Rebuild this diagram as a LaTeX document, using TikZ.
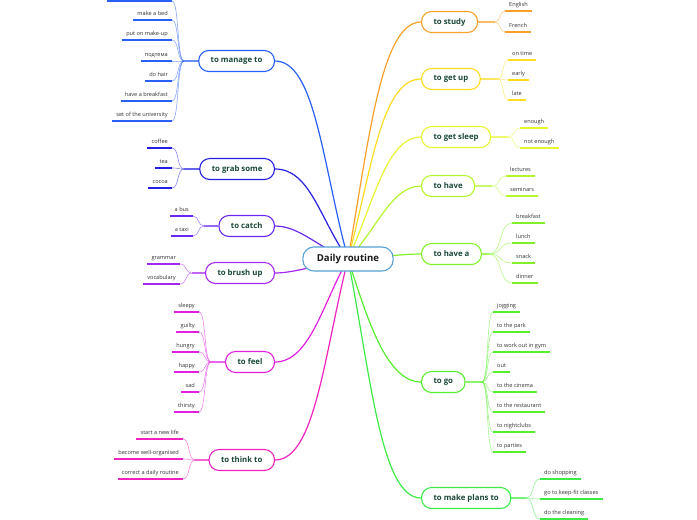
\documentclass[tikz,border=0pt]{standalone}
\usepackage{fontspec}
\setmainfont{Open Sans}
\usetikzlibrary{calc}
\definecolor{cmanage}{RGB}{40,95,245}
\definecolor{cgrab}{RGB}{35,30,225}
\definecolor{ccatch}{RGB}{105,40,240}
\definecolor{cbrush}{RGB}{165,40,240}
\definecolor{cfeel}{RGB}{225,30,225}
\definecolor{cthink}{RGB}{240,35,190}
\definecolor{cstudy}{RGB}{250,160,40}
\definecolor{cgetup}{RGB}{255,220,30}
\definecolor{csleep}{RGB}{230,245,45}
\definecolor{chave}{RGB}{180,245,45}
\definecolor{chavea}{RGB}{130,240,40}
\definecolor{cgo}{RGB}{85,240,45}
\definecolor{cplans}{RGB}{60,235,70}
\definecolor{ccentral}{RGB}{85,160,215}
\definecolor{lbl}{RGB}{25,72,55}
\definecolor{ctext}{RGB}{50,50,50}
\tikzset{
  topicbox/.style={draw, fill=white, rounded corners=10pt, minimum height=21pt,
    inner xsep=12pt, inner ysep=0pt, line width=1.1pt,
    font=\bfseries\fontsize{7.8}{9}\selectfont, text=lbl},
  centralbox/.style={draw=ccentral, fill=white, rounded corners=11pt, minimum height=24pt,
    inner xsep=14pt, inner ysep=0pt, line width=1.1pt,
    font=\bfseries\fontsize{9.6}{11}\selectfont, text=black!90},
  kidtext/.style={inner xsep=4pt, inner ysep=3pt, text height=4.3pt, text depth=1.5pt,
    font=\fontsize{5.6}{6.5}\selectfont, text=ctext},
  uline/.style={line width=1.2pt},
  cconn/.style={line width=0.6pt, opacity=0.55},
  mconn/.style={line width=1.2pt},
  stub/.style={line width=1.6pt, opacity=0.7},
}
% fork, name, anchor, x, y, text, colour
\newcommand\kid[7]{%
  \node[kidtext,anchor=#3] (#2) at (#4,-#5) {#6};
  \draw[uline,#7] (#2.south west) -- (#2.south east);
  \draw[cconn,#7] (#1) .. controls ($(#1)!0.6!(#2.#3 |- #1)$) and ($(#1 |- #2.#3)!0.4!(#2.#3)$) .. (#2.#3);
}
% colour, out angle, out distance, in distance, node
\newcommand\mainR[5]{\draw[mconn,#1] (drc) .. controls +(#2:#3) and +(180:#4) .. (#5.west);}
\newcommand\mainL[5]{\draw[mconn,#1] (drc) .. controls +(#2:#3) and +(0:#4) .. (#5.east);}
\begin{document}
\begin{tikzpicture}[x=1pt,y=1pt]
\useasboundingbox (0,0) rectangle (697,-520);
\coordinate (drc) at (348,-259);

% ---------- right topics ----------
\node[topicbox,draw=cstudy,anchor=west] (study) at (421,-22) {to study};
\node[topicbox,draw=cgetup,anchor=west] (getup) at (421,-79) {to get up};
\node[topicbox,draw=csleep,anchor=west] (sleep) at (421,-137) {to get sleep};
\node[topicbox,draw=chave,anchor=west] (have) at (421,-186) {to have};
\node[topicbox,draw=chavea,anchor=west] (havea) at (421,-254) {to have a};
\node[topicbox,draw=cgo,anchor=west] (go) at (421,-382) {to go};
\node[topicbox,draw=cplans,anchor=west] (plans) at (421,-498) {to make plans to};

% ---------- left topics ----------
\node[topicbox,draw=cmanage,anchor=east] (manage) at (275,-61) {to manage to};
\node[topicbox,draw=cgrab,anchor=east] (grab) at (275,-169) {to grab some};
\node[topicbox,draw=ccatch,anchor=east] (catch) at (275,-226) {to catch};
\node[topicbox,draw=cbrush,anchor=east] (brush) at (275,-273) {to brush up};
\node[topicbox,draw=cfeel,anchor=east] (feel) at (275,-362) {to feel};
\node[topicbox,draw=cthink,anchor=east] (think) at (275,-460) {to think to};

% ---------- forks ----------
\coordinate (fstudy) at (495,-22);
\coordinate (fgetup) at (498,-79);
\coordinate (fsleep) at (508,-137);
\coordinate (fhave) at (492,-186);
\coordinate (fhavea) at (489,-254);
\coordinate (fgo) at (482,-382);
\coordinate (fplans) at (526,-498);
\coordinate (fmanage) at (184,-61);
\coordinate (fgrab) at (184,-169);
\coordinate (fcatch) at (204,-226);
\coordinate (fbrush) at (192,-273);
\coordinate (ffeel) at (211,-362);
\coordinate (fthink) at (195,-460);

\draw[stub,cstudy] (study.east) -- (fstudy);
\draw[stub,cgetup] (getup.east) -- (fgetup);
\draw[stub,csleep] (sleep.east) -- (fsleep);
\draw[stub,chave] (have.east) -- (fhave);
\draw[stub,chavea] (havea.east) -- (fhavea);
\draw[stub,cgo] (go.east) -- (fgo);
\draw[stub,cplans] (plans.east) -- (fplans);
\draw[stub,cmanage] (manage.west) -- (fmanage);
\draw[stub,cgrab] (grab.west) -- (fgrab);
\draw[stub,ccatch] (catch.west) -- (fcatch);
\draw[stub,cbrush] (brush.west) -- (fbrush);
\draw[stub,cfeel] (feel.west) -- (ffeel);
\draw[stub,cthink] (think.west) -- (fthink);

% ---------- right children ----------
\kid{fstudy}{st1}{south west}{505}{11}{English}{cstudy}
\kid{fstudy}{st2}{south west}{505}{32}{French}{cstudy}

\kid{fgetup}{gu1}{south west}{508}{60}{on time}{cgetup}
\kid{fgetup}{gu2}{south west}{508}{80}{early}{cgetup}
\kid{fgetup}{gu3}{south west}{508}{100}{late}{cgetup}

\kid{fsleep}{sl1}{south west}{520}{128}{enough}{csleep}
\kid{fsleep}{sl2}{south west}{520}{148}{not enough}{csleep}

\kid{fhave}{hv1}{south west}{506}{176}{lectures}{chave}
\kid{fhave}{hv2}{south west}{506}{196}{seminars}{chave}

\kid{fhavea}{ha1}{south west}{512}{223}{breakfast}{chavea}
\kid{fhavea}{ha2}{south west}{512}{243}{lunch}{chavea}
\kid{fhavea}{ha3}{south west}{512}{263}{snack}{chavea}
\kid{fhavea}{ha4}{south west}{512}{283}{dinner}{chavea}

\kid{fgo}{go1}{south west}{493}{312}{jogging}{cgo}
\kid{fgo}{go2}{south west}{493}{332}{to the park}{cgo}
\kid{fgo}{go3}{south west}{493}{352}{to work out in gym}{cgo}
\kid{fgo}{go4}{south west}{493}{372}{out}{cgo}
\kid{fgo}{go5}{south west}{493}{392}{to the cinema}{cgo}
\kid{fgo}{go6}{south west}{493}{412}{to the restaurant}{cgo}
\kid{fgo}{go7}{south west}{493}{432}{to nightclubs}{cgo}
\kid{fgo}{go8}{south west}{493}{452}{to parties}{cgo}

\kid{fplans}{pl1}{south west}{540}{479}{do shopping}{cplans}
\kid{fplans}{pl2}{south west}{540}{499}{go to keep-fit classes}{cplans}
\kid{fplans}{pl3}{south west}{540}{519}{do the cleaning}{cplans}

% ---------- left children ----------
\coordinate (m0a) at (107,-1);
\coordinate (m0) at (172,-1);
\draw[uline,cmanage] (m0a) -- (m0);
\draw[cconn,cmanage] (fmanage) .. controls ($(fmanage)!0.6!(m0 |- fmanage)$) and ($(fmanage |- m0)!0.4!(m0)$) .. (m0);
\kid{fmanage}{ma1}{south east}{172}{20}{make a bed}{cmanage}
\kid{fmanage}{ma2}{south east}{172}{40}{put on make-up}{cmanage}
\kid{fmanage}{ma3}{south east}{172}{61}{подтема}{cmanage}
\kid{fmanage}{ma4}{south east}{172}{81}{do hair}{cmanage}
\kid{fmanage}{ma5}{south east}{172}{101}{have a breakfast}{cmanage}
\kid{fmanage}{ma6}{south east}{172}{121}{set of the university}{cmanage}

\kid{fgrab}{gr1}{south east}{172}{148}{coffee}{cgrab}
\kid{fgrab}{gr2}{south east}{172}{168}{tea}{cgrab}
\kid{fgrab}{gr3}{south east}{172}{188}{cocoa}{cgrab}

\kid{fcatch}{ca1}{south east}{193}{216}{a bus}{ccatch}
\kid{fcatch}{ca2}{south east}{193}{236}{a taxi}{ccatch}

\kid{fbrush}{br1}{south east}{180}{264}{grammar}{cbrush}
\kid{fbrush}{br2}{south east}{180}{284}{vocabulary}{cbrush}

\kid{ffeel}{fe1}{south east}{199}{312}{sleepy}{cfeel}
\kid{ffeel}{fe2}{south east}{199}{332}{guilty}{cfeel}
\kid{ffeel}{fe3}{south east}{199}{352}{hungry}{cfeel}
\kid{ffeel}{fe4}{south east}{199}{372}{happy}{cfeel}
\kid{ffeel}{fe5}{south east}{199}{392}{sad}{cfeel}
\kid{ffeel}{fe6}{south east}{199}{412}{thirsty}{cfeel}

\kid{fthink}{th1}{south east}{183}{439}{start a new life}{cthink}
\kid{fthink}{th2}{south east}{183}{459}{become well-organised}{cthink}
\kid{fthink}{th3}{south east}{183}{479}{correct a daily routine}{cthink}

% ---------- main connectors ----------
\mainR{cstudy}{80}{120}{40}{study}
\mainR{cgetup}{75}{90}{40}{getup}
\mainR{csleep}{65}{60}{35}{sleep}
\mainR{chave}{45}{40}{30}{have}
\mainR{chavea}{0}{25}{25}{havea}
\mainR{cgo}{-72}{60}{35}{go}
\mainR{cplans}{-79}{120}{40}{plans}
\mainL{cmanage}{105}{100}{40}{manage}
\mainL{cgrab}{125}{50}{35}{grab}
\mainL{ccatch}{160}{30}{25}{catch}
\mainL{cbrush}{190}{25}{20}{brush}
\mainL{cfeel}{-120}{50}{35}{feel}
\mainL{cthink}{-104}{100}{40}{think}

% ---------- central ----------
\node[centralbox] (dr) at (drc) {Daily routine};
\end{tikzpicture}
\end{document}
